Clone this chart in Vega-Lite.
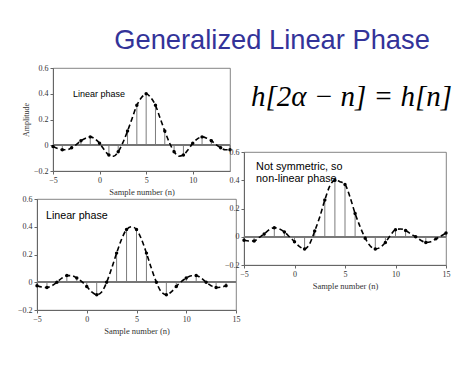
{
  "$schema": "https://vega.github.io/schema/vega-lite/v6.json",
  "padding": {"left": 17, "top": 27, "right": 5, "bottom": 5},
  "background": "white",
  "title": {"text": "Generalized Linear Phase", "font": "Liberation Sans", "fontSize": 27.3, "fontWeight": "normal", "color": "#333399", "anchor": "middle", "offset": 8, "dx": 34},
  "config": {
    "view": {"stroke": "#666", "strokeWidth": 0.8},
    "axis": {"grid": false, "domainColor": "#666", "tickColor": "#666", "tickSize": 3, "labelFont": "Liberation Serif", "labelFontSize": 8, "labelColor": "#333", "labelOverlap": false, "titleFont": "Liberation Serif", "titleFontSize": 8.5, "titleFontWeight": "normal", "titleColor": "#333", "labelFlush": false, "labelPadding": 2, "titlePadding": 3}
  },
  "datasets": {
    "p1": [
      {"n": -5, "h": -0.01}, {"n": -4.5, "h": -0.025}, {"n": -4, "h": -0.035}, {"n": -3.5, "h": -0.035}, {"n": -3, "h": -0.02}, {"n": -2.5, "h": 0.005}, {"n": -2, "h": 0.035}, {"n": -1.5, "h": 0.055}, {"n": -1, "h": 0.065}, {"n": -0.5, "h": 0.05}, {"n": 0, "h": 0.015}, {"n": 0.5, "h": -0.035}, {"n": 1, "h": -0.075}, {"n": 1.5, "h": -0.085}, {"n": 2, "h": -0.05}, {"n": 2.5, "h": 0.02}, {"n": 3, "h": 0.11}, {"n": 3.5, "h": 0.21}, {"n": 4, "h": 0.31}, {"n": 4.5, "h": 0.37}, {"n": 5, "h": 0.4}, {"n": 5.5, "h": 0.37}, {"n": 6, "h": 0.31}, {"n": 6.5, "h": 0.21}, {"n": 7, "h": 0.11}, {"n": 7.5, "h": 0.02}, {"n": 8, "h": -0.05}, {"n": 8.5, "h": -0.085}, {"n": 9, "h": -0.075}, {"n": 9.5, "h": -0.035}, {"n": 10, "h": 0.015}, {"n": 10.5, "h": 0.05}, {"n": 11, "h": 0.065}, {"n": 11.5, "h": 0.055}, {"n": 12, "h": 0.035}, {"n": 12.5, "h": 0.005}, {"n": 13, "h": -0.02}, {"n": 13.5, "h": -0.035}, {"n": 14, "h": -0.035}
    ],
    "p2": [
      {"n": -5, "h": -0.025}, {"n": -4.5, "h": -0.035}, {"n": -4, "h": -0.038}, {"n": -3.5, "h": -0.025}, {"n": -3, "h": 0.0}, {"n": -2.5, "h": 0.03}, {"n": -2, "h": 0.048}, {"n": -1.5, "h": 0.047}, {"n": -1, "h": 0.03}, {"n": -0.5, "h": 0.005}, {"n": 0, "h": -0.03}, {"n": 0.5, "h": -0.07}, {"n": 1, "h": -0.09}, {"n": 1.5, "h": -0.07}, {"n": 2, "h": 0.0}, {"n": 2.5, "h": 0.1}, {"n": 3, "h": 0.21}, {"n": 3.5, "h": 0.31}, {"n": 4, "h": 0.38}, {"n": 4.5, "h": 0.4}, {"n": 5, "h": 0.38}, {"n": 5.5, "h": 0.31}, {"n": 6, "h": 0.21}, {"n": 6.5, "h": 0.1}, {"n": 7, "h": 0.0}, {"n": 7.5, "h": -0.07}, {"n": 8, "h": -0.09}, {"n": 8.5, "h": -0.07}, {"n": 9, "h": -0.03}, {"n": 9.5, "h": 0.005}, {"n": 10, "h": 0.03}, {"n": 10.5, "h": 0.047}, {"n": 11, "h": 0.048}, {"n": 11.5, "h": 0.03}, {"n": 12, "h": 0.0}, {"n": 12.5, "h": -0.025}, {"n": 13, "h": -0.038}, {"n": 13.5, "h": -0.035}, {"n": 14, "h": -0.025}
    ],
    "p3": [
      {"n": -5, "h": -0.025}, {"n": -4.5, "h": -0.03}, {"n": -4, "h": -0.03}, {"n": -3.5, "h": -0.005}, {"n": -3, "h": 0.02}, {"n": -2.5, "h": 0.05}, {"n": -2, "h": 0.064}, {"n": -1.5, "h": 0.055}, {"n": -1, "h": 0.034}, {"n": -0.5, "h": 0.0}, {"n": 0, "h": -0.035}, {"n": 0.5, "h": -0.07}, {"n": 1, "h": -0.086}, {"n": 1.5, "h": -0.05}, {"n": 2, "h": 0.04}, {"n": 2.5, "h": 0.14}, {"n": 3, "h": 0.26}, {"n": 3.5, "h": 0.36}, {"n": 4, "h": 0.4}, {"n": 4.5, "h": 0.39}, {"n": 5, "h": 0.37}, {"n": 5.5, "h": 0.28}, {"n": 6, "h": 0.165}, {"n": 6.5, "h": 0.07}, {"n": 7, "h": -0.01}, {"n": 7.5, "h": -0.065}, {"n": 8, "h": -0.086}, {"n": 8.5, "h": -0.075}, {"n": 9, "h": -0.04}, {"n": 9.5, "h": 0.01}, {"n": 10, "h": 0.05}, {"n": 10.5, "h": 0.055}, {"n": 11, "h": 0.045}, {"n": 11.5, "h": 0.02}, {"n": 12, "h": 0.0}, {"n": 12.5, "h": -0.025}, {"n": 13, "h": -0.04}, {"n": 13.5, "h": -0.035}, {"n": 14, "h": -0.015}, {"n": 14.5, "h": 0.005}, {"n": 15, "h": 0.026}
    ]
  },
  "spacing": -17,
  "hconcat": [
    {
      "spacing": -2,
      "vconcat": [
        {
          "bounds": "flush",
          "spacing": 15,
          "hconcat": [
            {"width": 1, "height": 1, "view": {"stroke": null}, "data": {"values": [{"t": ""}]}, "mark": {"type": "text"}, "encoding": {"text": {"field": "t"}}},
            {
              "width": 177, "height": 103,
              "data": {"name": "p1"},
              "layer": [
                {"transform": [{"filter": "datum.n % 1 === 0"}], "mark": {"type": "rule", "color": "#444", "strokeWidth": 0.7},
                 "encoding": {
                   "x": {"field": "n", "type": "quantitative", "scale": {"domain": [-5, 14], "nice": false, "zero": false}, "axis": {"values": [-5, 0, 5, 10], "tickCount": 20, "title": "Sample number (n)"}},
                   "y": {"field": "h", "type": "quantitative", "scale": {"domain": [-0.2, 0.6], "nice": false}, "axis": {"values": [-0.2, 0, 0.2, 0.4, 0.6], "tickCount": 20, "labelExpr": "datum.value == 0 ? '0' : format(datum.value, '.1f')", "title": "Amplitude", "titleFontSize": 8}},
                   "y2": {"datum": 0}}},
                {"mark": {"type": "rule", "color": "#777", "strokeWidth": 0.8}, "encoding": {"y": {"datum": 0}}},
                {"mark": {"type": "line", "color": "black", "strokeDash": [5, 3], "strokeWidth": 1.6, "interpolate": "monotone"}, "encoding": {"x": {"field": "n", "type": "quantitative"}, "y": {"field": "h", "type": "quantitative"}}},
                {"transform": [{"filter": "datum.n % 1 === 0"}], "mark": {"type": "point", "filled": true, "color": "black", "opacity": 1, "size": 12}, "encoding": {"x": {"field": "n", "type": "quantitative"}, "y": {"field": "h", "type": "quantitative"}}},
                {"data": {"values": [{"n": -2.86, "h": 0.4, "t": "Linear phase"}]}, "mark": {"type": "text", "align": "left", "baseline": "middle", "font": "Liberation Sans", "fontSize": 9, "color": "black"}, "encoding": {"x": {"field": "n", "type": "quantitative"}, "y": {"field": "h", "type": "quantitative"}, "text": {"field": "t"}}}
              ]
            }
          ]
        },
        {
          "width": 199, "height": 111,
          "data": {"name": "p2"},
          "layer": [
            {"transform": [{"filter": "datum.n % 1 === 0"}], "mark": {"type": "rule", "color": "#444", "strokeWidth": 0.7},
             "encoding": {
               "x": {"field": "n", "type": "quantitative", "scale": {"domain": [-5, 15], "nice": false, "zero": false}, "axis": {"values": [-5, 0, 5, 10, 15], "tickCount": 20, "title": "Sample number (n)"}},
               "y": {"field": "h", "type": "quantitative", "scale": {"domain": [-0.2, 0.6], "nice": false}, "axis": {"values": [-0.2, 0, 0.2, 0.4, 0.6], "tickCount": 20, "labelExpr": "datum.value == 0 ? '0' : format(datum.value, '.1f')", "title": null}},
               "y2": {"datum": 0}}},
            {"mark": {"type": "rule", "color": "#777", "strokeWidth": 0.8}, "encoding": {"y": {"datum": 0}}},
            {"mark": {"type": "line", "color": "black", "strokeDash": [5, 3], "strokeWidth": 1.6, "interpolate": "monotone"}, "encoding": {"x": {"field": "n", "type": "quantitative"}, "y": {"field": "h", "type": "quantitative"}}},
            {"transform": [{"filter": "datum.n % 1 === 0"}], "mark": {"type": "point", "filled": true, "color": "black", "opacity": 1, "size": 12}, "encoding": {"x": {"field": "n", "type": "quantitative"}, "y": {"field": "h", "type": "quantitative"}}},
            {"data": {"values": [{"n": -4.1, "h": 0.48, "t": "Linear phase"}]}, "mark": {"type": "text", "align": "left", "baseline": "middle", "font": "Liberation Sans", "fontSize": 10.7, "color": "black"}, "encoding": {"x": {"field": "n", "type": "quantitative"}, "y": {"field": "h", "type": "quantitative"}, "text": {"field": "t"}}}
          ]
        }
      ]
    },
    {
      "spacing": 21,
      "vconcat": [
        {"width": 215, "height": 58, "view": {"stroke": null}, "data": {"values": [{"t": "h[2α − n] = h[n]"}]}, "mark": {"type": "text", "font": "Liberation Serif", "fontSize": 29, "fontStyle": "italic", "color": "black", "baseline": "middle"}, "encoding": {"text": {"field": "t"}}},
        {
          "width": 202, "height": 113,
          "data": {"name": "p3"},
          "layer": [
            {"transform": [{"filter": "datum.n % 1 === 0"}], "mark": {"type": "rule", "color": "#444", "strokeWidth": 0.7},
             "encoding": {
               "x": {"field": "n", "type": "quantitative", "scale": {"domain": [-5, 15], "nice": false, "zero": false}, "axis": {"values": [-5, 0, 5, 10, 15], "tickCount": 20, "title": "Sample number (n)"}},
               "y": {"field": "h", "type": "quantitative", "scale": {"domain": [-0.2, 0.6], "nice": false}, "axis": {"values": [-0.2, 0, 0.2, 0.4, 0.6], "tickCount": 20, "labelExpr": "datum.value == 0 ? '0' : format(datum.value, '.1f')", "title": null}},
               "y2": {"datum": 0}}},
            {"mark": {"type": "rule", "color": "#777", "strokeWidth": 0.8}, "encoding": {"y": {"datum": 0}}},
            {"mark": {"type": "line", "color": "black", "strokeDash": [5, 3], "strokeWidth": 1.6, "interpolate": "monotone"}, "encoding": {"x": {"field": "n", "type": "quantitative"}, "y": {"field": "h", "type": "quantitative"}}},
            {"transform": [{"filter": "datum.n % 1 === 0"}], "mark": {"type": "point", "filled": true, "color": "black", "opacity": 1, "size": 12}, "encoding": {"x": {"field": "n", "type": "quantitative"}, "y": {"field": "h", "type": "quantitative"}}},
            {"data": {"values": [{"n": -3.8, "h": 0.494, "t": ["Not symmetric, so", "non-linear phase"]}]}, "mark": {"type": "text", "align": "left", "baseline": "middle", "font": "Liberation Sans", "fontSize": 10.8, "lineHeight": 12.3, "color": "black"}, "encoding": {"x": {"field": "n", "type": "quantitative"}, "y": {"field": "h", "type": "quantitative"}, "text": {"field": "t"}}}
          ]
        }
      ]
    }
  ]
}
